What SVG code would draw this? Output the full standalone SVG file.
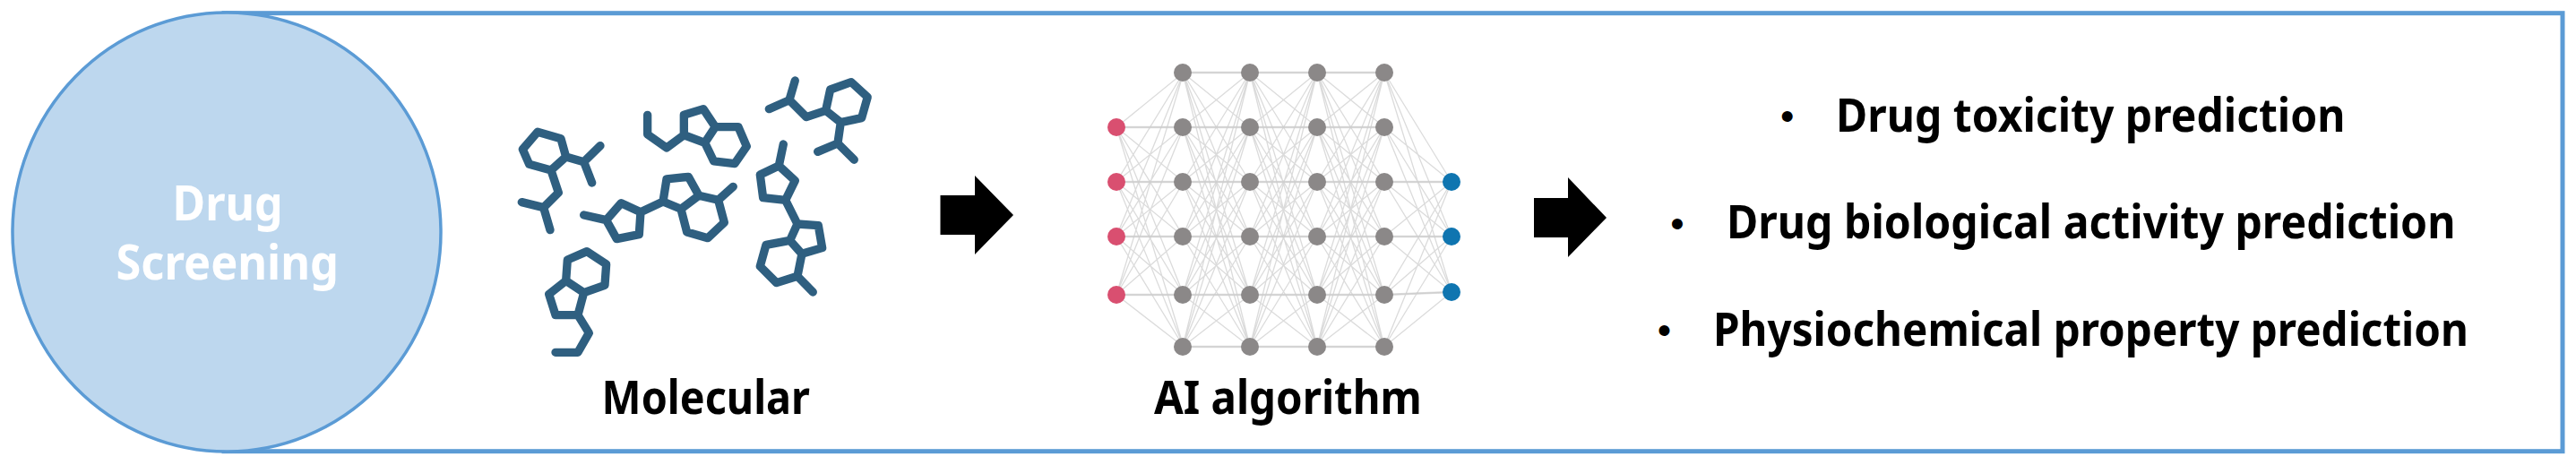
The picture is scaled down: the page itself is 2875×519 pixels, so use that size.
<svg xmlns="http://www.w3.org/2000/svg" xmlns:xlink="http://www.w3.org/1999/xlink" width="2875" height="519" viewBox="0 0 2875 519">
<style>
.lbl{font-family:"Noto Sans","Open Sans","Liberation Sans",sans-serif;font-weight:700;font-size:52px;fill:#000}
.wht{fill:#fff;font-size:54px}
.bul{font-family:"Liberation Sans",Arial,sans-serif;font-size:44px;font-weight:400;fill:#000;text-anchor:middle}
.mol{fill:none;stroke:#2f5f80;stroke-width:28;stroke-linejoin:round;stroke-linecap:round}
.edge{fill:none;stroke:#bdbdbd;stroke-width:1.3;stroke-opacity:.55}
.h{fill:none;stroke:#c4c4c4;stroke-width:2.4;stroke-opacity:.5}
.g{fill:#8b8888}.r{fill:#d94f70}.b{fill:#0f75b0}
.arrow{fill:#000}
</style>
<defs>
<path id="fan" class="edge" d="M0 81L75 81M0 81L75 142M0 81L75 203M0 81L75 264M0 81L75 329M0 81L75 387M0 142L75 81M0 142L75 142M0 142L75 203M0 142L75 264M0 142L75 329M0 142L75 387M0 203L75 81M0 203L75 142M0 203L75 203M0 203L75 264M0 203L75 329M0 203L75 387M0 264L75 81M0 264L75 142M0 264L75 203M0 264L75 264M0 264L75 329M0 264L75 387M0 329L75 81M0 329L75 142M0 329L75 203M0 329L75 264M0 329L75 329M0 329L75 387M0 387L75 81M0 387L75 142M0 387L75 203M0 387L75 264M0 387L75 329M0 387L75 387"/>
<path id="rows" class="h" d="M0 81H75M0 142H75M0 203H75M0 264H75M0 329H75M0 387H75"/>
</defs>
<rect id="frame" x="250" y="14.7" width="2610" height="489" fill="#fff" stroke="#5b9bd5" stroke-width="5"/>
<g id="connectors">
<g id="network-edges">
<path class="edge" transform="translate(1246 0)" d="M0 142L75 81M0 142L75 142M0 142L75 203M0 142L75 264M0 142L75 329M0 142L75 387M0 203L75 81M0 203L75 142M0 203L75 203M0 203L75 264M0 203L75 329M0 203L75 387M0 264L75 81M0 264L75 142M0 264L75 203M0 264L75 264M0 264L75 329M0 264L75 387M0 329L75 81M0 329L75 142M0 329L75 203M0 329L75 264M0 329L75 329M0 329L75 387"/>
<path class="h" transform="translate(1246 0)" d="M0 142H75M0 203H75M0 264H75M0 329H75"/>
<use xlink:href="#fan" href="#fan" x="1320"/><use xlink:href="#rows" href="#rows" x="1320"/>
<use xlink:href="#fan" href="#fan" x="1395"/><use xlink:href="#rows" href="#rows" x="1395"/>
<use xlink:href="#fan" href="#fan" x="1470"/><use xlink:href="#rows" href="#rows" x="1470"/>
<path class="edge" transform="translate(1545 0)" d="M0 81L75 203M0 81L75 264M0 81L75 326M0 142L75 203M0 142L75 264M0 142L75 326M0 203L75 203M0 203L75 264M0 203L75 326M0 264L75 203M0 264L75 264M0 264L75 326M0 329L75 203M0 329L75 264M0 329L75 326M0 387L75 203M0 387L75 264M0 387L75 326"/>
<path class="h" transform="translate(1545 0)" d="M0 203H75M0 264H75M0 329L75 326"/>
</g>
<path id="arrow-1" class="arrow" d="M1049.5 218H1088V196L1131 240L1088 284V262H1049.5Z"/>
<path id="arrow-2" class="arrow" d="M1712 221H1750V198L1793 243L1750 287V265H1712Z"/>
</g>
<g id="drug-screening">
<ellipse cx="253" cy="259" rx="239" ry="245" fill="#bdd7ee" stroke="#5b9bd5" stroke-width="3.5"/>
<text class="lbl wht" x="192.6" y="246" textLength="123" lengthAdjust="spacingAndGlyphs">Drug</text>
<text class="lbl wht" x="129.5" y="312" textLength="248.5" lengthAdjust="spacingAndGlyphs">Screening</text>
</g>
<g id="molecular">
<g transform="translate(550 60) scale(.3333)">
<path class="mol" d="M150 262L228 284L245 345L195 390L122 370L100 320ZM245 345L305 362L360 308M305 362L332 432M195 390L220 465L170 515L97 497M170 515L192 590"/>
<path class="mol" d="M518 205V270L582 315L640 272V205L705 185L745 245L710 298L640 272M745 245H822L850 310L810 368L740 360L710 298"/>
<path class="mol" d="M305 540L380 557L430 500L495 530L490 605L415 620L380 557M495 530L570 495L582 420L655 412L690 475L630 520L570 495M690 475L755 490L775 565L720 617L650 597L630 520M755 490L805 445"/>
<path class="mol" d="M1012 90L993 155L925 185M993 155L1050 212L1115 190L1130 120L1200 95L1255 145L1235 215L1165 230L1115 190M1165 230L1155 300L1088 328M1155 300L1210 355"/>
<path class="mol" d="M973 303L958 375L1012 425L980 490L905 482L895 405L958 375M980 490L1020 570L1090 575L1103 650L1035 670L995 625L1020 570M995 625L1035 670L1020 745L950 767L895 712L915 640L995 625M1020 745L1072 798"/>
<path class="mol" d="M315 662L380 705L375 775L305 800L245 760L250 690ZM245 760L188 805L210 875H285L305 800M285 875L322 935L285 1000H210"/>
</g>
<text class="lbl" x="671.6" y="461.7" textLength="232.4" lengthAdjust="spacingAndGlyphs">Molecular</text>
</g>
<g id="ai-algorithm">
<g id="input-layer" class="r">
<circle cx="1246" cy="142" r="10"/><circle cx="1246" cy="203" r="10"/><circle cx="1246" cy="264" r="10"/><circle cx="1246" cy="329" r="10"/>
</g>
<g id="hidden-layers" class="g">
<circle cx="1320" cy="81" r="10"/><circle cx="1320" cy="142" r="10"/><circle cx="1320" cy="203" r="10"/><circle cx="1320" cy="264" r="10"/><circle cx="1320" cy="329" r="10"/><circle cx="1320" cy="387" r="10"/>
<circle cx="1395" cy="81" r="10"/><circle cx="1395" cy="142" r="10"/><circle cx="1395" cy="203" r="10"/><circle cx="1395" cy="264" r="10"/><circle cx="1395" cy="329" r="10"/><circle cx="1395" cy="387" r="10"/>
<circle cx="1470" cy="81" r="10"/><circle cx="1470" cy="142" r="10"/><circle cx="1470" cy="203" r="10"/><circle cx="1470" cy="264" r="10"/><circle cx="1470" cy="329" r="10"/><circle cx="1470" cy="387" r="10"/>
<circle cx="1545" cy="81" r="10"/><circle cx="1545" cy="142" r="10"/><circle cx="1545" cy="203" r="10"/><circle cx="1545" cy="264" r="10"/><circle cx="1545" cy="329" r="10"/><circle cx="1545" cy="387" r="10"/>
</g>
<g id="output-layer" class="b">
<circle cx="1620" cy="203" r="10"/><circle cx="1620" cy="264" r="10"/><circle cx="1620" cy="326" r="10"/>
</g>
<text class="lbl" x="1288" y="462" textLength="298.7" lengthAdjust="spacingAndGlyphs">AI algorithm</text>
</g>
<g id="predictions">
<text class="bul" x="1994.6" y="145">•</text>
<text class="lbl" x="2049" y="147" textLength="568.5" lengthAdjust="spacingAndGlyphs">Drug toxicity prediction</text>
<text class="bul" x="1872" y="265">•</text>
<text class="lbl" x="1927" y="266" textLength="813.5" lengthAdjust="spacingAndGlyphs">Drug biological activity prediction</text>
<text class="bul" x="1857.4" y="384">•</text>
<text class="lbl" x="1912" y="385.7" textLength="843" lengthAdjust="spacingAndGlyphs">Physiochemical property prediction</text>
</g>
</svg>
